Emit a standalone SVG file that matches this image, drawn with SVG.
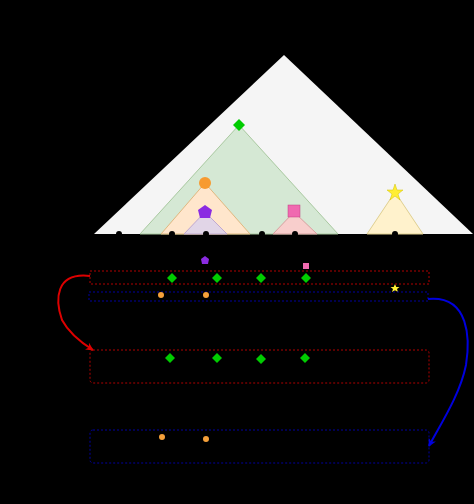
<svg xmlns="http://www.w3.org/2000/svg" width="474" height="504" viewBox="0 0 474 504">
<defs>
<style>
.tri{stroke-width:1}
.dot{fill:#000}
.dia{fill:#00cc00}
.org{fill:#f5a03a}
.rbox{fill:none;stroke:#b00000;stroke-width:1;stroke-dasharray:2 2}
.bbox{fill:none;stroke:#0000a0;stroke-width:1;stroke-dasharray:2 2}
</style>
<marker id="ar" viewBox="0 0 10 10" refX="9" refY="5" markerWidth="7" markerHeight="7" orient="auto" markerUnits="userSpaceOnUse">
<path d="M0,0 L10,5 L0,10 L3,5 Z" fill="context-stroke"/>
</marker>
<marker id="arR" viewBox="0 0 10 10" refX="9" refY="5" markerWidth="8" markerHeight="8" orient="auto" markerUnits="userSpaceOnUse">
<path d="M0,0 L10,5 L0,10 L3,5 Z" fill="#dd0000"/>
</marker>
<marker id="arB" viewBox="0 0 10 10" refX="9" refY="5" markerWidth="8" markerHeight="8" orient="auto" markerUnits="userSpaceOnUse">
<path d="M0,0 L10,5 L0,10 L3,5 Z" fill="#0000dd"/>
</marker>
</defs>
<rect width="474" height="504" fill="#000"/>
<g id="tree-all"><polygon points="284,55 473,234 94,234" fill="#f5f5f5"/></g>
<g id="tree-green"><polygon class="tri" points="239,125 338,234 140,234" fill="#d5e8d4" stroke="#a9c9a0"/></g>
<g id="tree-orange"><polygon class="tri" points="205,183 250,234 161,234" fill="#ffe6cc" stroke="#e0b880"/></g>
<g id="tree-purple"><polygon class="tri" points="205,212 227,234 184,234" fill="#e1d5e7" stroke="#c0a8d0"/></g>
<g id="tree-pink"><polygon class="tri" points="294,212 317,234 273,234" fill="#f8cecc" stroke="#d8a0a0"/></g>
<g id="tree-yellow"><polygon class="tri" points="395,192 423,234 367,234" fill="#fff2cc" stroke="#e0d090"/></g>
<g id="apex-green"><polygon class="dia" points="239,119 245,125 239,131 233,125"/></g>
<g id="apex-orange"><circle cx="205" cy="183" r="6" fill="#f79a30"/></g>
<g id="apex-purple"><polygon points="205,205 212,210 210,218 200,218 198,210" fill="#8a2be2"/></g>
<g id="apex-pink"><rect x="288" y="205" width="12" height="12" fill="#f06ab0" stroke="#c04080" stroke-width="0.5"/></g>
<g id="apex-yellow"><polygon points="395,184 397,190 403,190 398,194 400,200 395,196 390,200 392,194 387,190 393,190" fill="#ffee33" stroke="#d0c000" stroke-width="0.5"/></g>
<g id="leaves">
<circle class="dot" cx="119" cy="234" r="3"/>
<circle class="dot" cx="172" cy="234" r="3"/>
<circle class="dot" cx="206" cy="234" r="3"/>
<circle class="dot" cx="262" cy="234" r="3"/>
<circle class="dot" cx="295" cy="234" r="3"/>
<circle class="dot" cx="395" cy="234" r="3"/>
</g>
<g id="small-purple"><polygon points="205,256 209,259 208,264 202,264 201,259" fill="#8a2be2"/></g>
<g id="small-pink"><rect x="303" y="263" width="6" height="6" fill="#f06ab0"/></g>
<g id="small-star"><polygon points="395,284 396.3,287 399.5,287 397,289 398,292 395,290.3 392,292 393,289 390.5,287 393.7,287" fill="#ffee33"/></g>
<g id="red-row">
<rect class="rbox" x="90" y="271" width="339" height="13"/>
<polygon class="dia" points="172,273 177,278 172,283 167,278"/>
<polygon class="dia" points="217,273 222,278 217,283 212,278"/>
<polygon class="dia" points="261,273 266,278 261,283 256,278"/>
<polygon class="dia" points="306,273 311,278 306,283 301,278"/>
</g>
<g id="blue-row">
<rect class="bbox" x="89" y="292" width="339" height="9"/>
<circle class="org" cx="161" cy="295" r="3"/>
<circle class="org" cx="206" cy="295" r="3"/>
</g>
<g id="red-box">
<rect class="rbox" x="90" y="350" width="339" height="33" rx="3"/>
<polygon class="dia" points="170,353 175,358 170,363 165,358"/>
<polygon class="dia" points="217,353 222,358 217,363 212,358"/>
<polygon class="dia" points="261,354 266,359 261,364 256,359"/>
<polygon class="dia" points="305,353 310,358 305,363 300,358"/>
</g>
<g id="blue-box">
<rect class="bbox" x="90" y="430" width="339" height="33" rx="3"/>
<circle class="org" cx="162" cy="437" r="3"/>
<circle class="org" cx="206" cy="439" r="3"/>
</g>
<g id="connectors" fill="none" stroke-width="2">
<path d="M90,276 C55,272 55,300 62,320 C70,335 85,345 93,350" stroke="#dd0000" marker-end="url(#arR)"/>
<path d="M428,299 C470,295 470,340 466,365 C460,395 440,425 429,446" stroke="#0000dd" marker-end="url(#arB)"/>
</g>
</svg>
